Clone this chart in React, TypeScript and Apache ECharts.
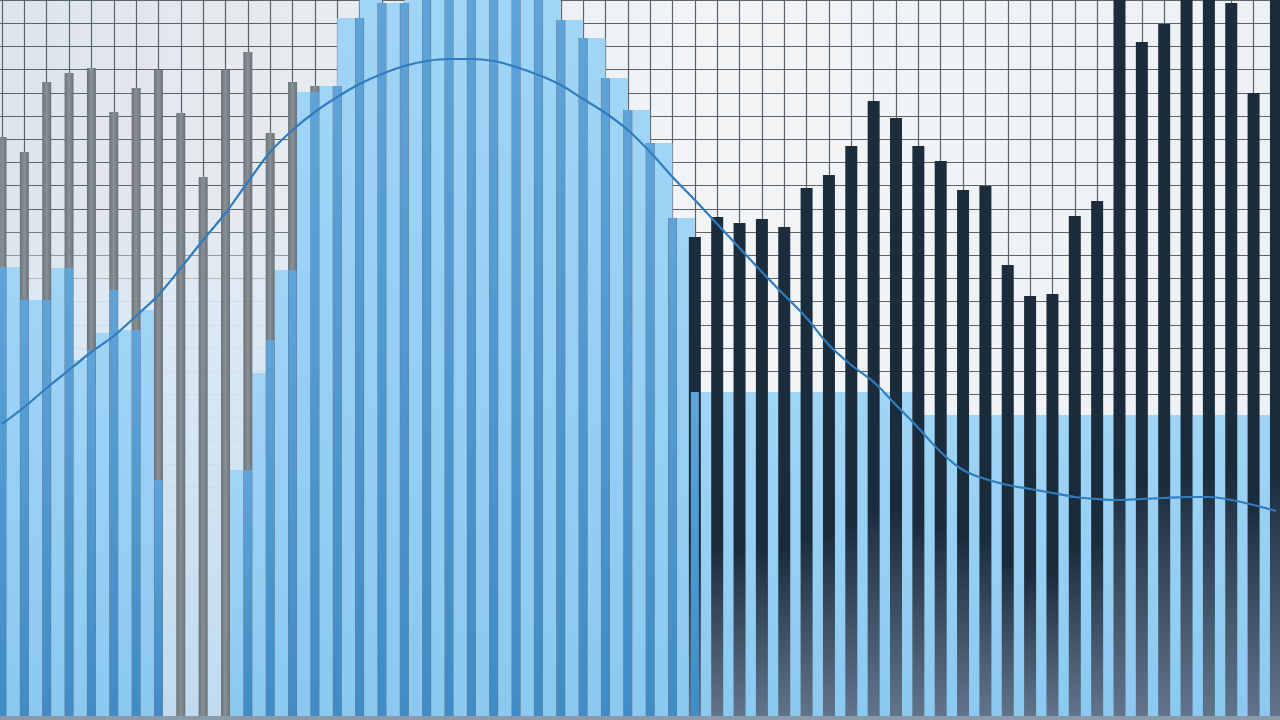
import React, { useEffect, useRef } from "react";
import * as echarts from "echarts";

// Heights of the thin front bars (k = 0..57), in axis units (0 = baseline, 716 = top of the picture)
const thinHeights = [
  579, 564, 634, 643, 648, 604, 628, 646, 603, 539, 646, 664, 583, 634, 630,
  630, 698, 713, 713, 716, 716, 716, 716, 716, 716, 696, 678, 638, 606, 573, 498,
  479, 499, 493, 497, 489, 528, 541, 570, 615, 598, 570, 555, 526, 530, 451,
  420, 422, 500, 515, 716, 674, 692, 716, 716, 713, 623, 716,
];
// index from which the thin bars are the dark navy ones
const darkFrom = 31;

// Height where each front bar (k = 0..31) turns blue inside the light-blue panels
const blueStripeHeights = [
  449, 416, 416, 448, 366, 426, 386, 236, null, null, null, 246, 376, 446, 624,
  630, 698, 713, 713, 716, 716, 716, 716, 716, 716, 696, 678, 638, 606, 573, 498, 324,
];

// Light-blue wide panels, centred between the thin bars (j = 0..58)
const wideHeights = [
  449, 449, 416, 448, 356, 383, 386, 406, null, null, null, 246, 343, 446, 624,
  630, 698, 716, 713, 716, 716, 716, 716, 716, 716, 716, 696, 678, 638, 606, 573, 498,
  324, 324, 324, 324, 324, 324, 324, 324, 324, 324,
  301, 301, 301, 301, 301, 301, 301, 301, 301, 301, 301, 301, 301, 301, 301, 301, 301,
];

// Pale haze behind the grey bars on the left (j = 0..13)
const hazeHeights = [
  501, 501, 501, 501, 501, 501, 501, 501, 501, 501, 501, 501, 501, 501,
];

// Smooth trend line, one point per thin bar
const trendValues = [
  292, 309, 328, 346, 364, 380, 400, 421, 448, 476, 503, 534, 564, 586, 604,
  619, 632, 642, 650, 655, 657, 657, 655, 649, 641, 631, 617, 603, 586, 564, 539,
  516, 492, 468, 444, 421, 398, 371, 351, 334, 311, 288, 264, 246, 237, 231,
  227, 223, 219, 217, 216, 217, 218, 219, 219, 216, 211, 205,
];

const STEP = 22.35; // px per category
const FIRST_X = 2; // centre of the first thin bar on the page
const PAD = 40; // chart canvas extends this far left of the page
const CHART_W = 1360;
const Y_MAX = 716;
const ROW = 23.2; // px per horizontal grid row

export default function App() {
  const ref = useRef<HTMLDivElement>(null);

  useEffect(() => {
    if (!ref.current) return;
    const chart = echarts.init(ref.current, null, { renderer: "svg" });

    const n = thinHeights.length;
    const cats = thinHeights.map((_, i) => "k" + i);
    const wideCats = wideHeights.map((_, i) => "j" + i);
    const g0Left = PAD + FIRST_X - STEP / 2;
    const g0Right = CHART_W - (g0Left + n * STEP);
    const g1Left = PAD + FIRST_X - STEP;
    const g1Right = CHART_W - (g1Left + wideHeights.length * STEP);

    const greyData = thinHeights.map((v, i) => (i < darkFrom ? v : null));
    const darkData = thinHeights.map((v, i) => (i >= darkFrom ? v : null));
    const blueData = thinHeights.map((v, i) => {
      const b = i < blueStripeHeights.length ? blueStripeHeights[i] : null;
      if (b == null) return null;
      return Math.min(v, b);
    });
    const hazeData = wideHeights.map((_, j) => (j < hazeHeights.length ? hazeHeights[j] : null));

    const hiddenCat = (gridIndex: number, data: string[]) => ({
      type: "category" as const,
      gridIndex,
      data,
      boundaryGap: true,
      axisLine: { show: false },
      axisTick: { show: false },
      axisLabel: { show: false },
      splitLine: { show: false },
    });

    const option: any = {
      animation: false,
      backgroundColor: "transparent",
      grid: [
        { left: g0Left, right: g0Right, top: 0, bottom: 720 - Y_MAX },
        { left: g1Left, right: g1Right, top: 0, bottom: 720 - Y_MAX },
      ],
      xAxis: [
        hiddenCat(0, cats), // 0 grey thin + line
        hiddenCat(0, cats), // 1 dark thin
        hiddenCat(0, cats), // 2 blue part
        {
          ...hiddenCat(1, wideCats), // 3 light-blue panels + vertical grid lines
          splitLine: {
            show: true,
            interval: 0,
            lineStyle: { color: "#5b636b", width: 1.2 },
          },
        },
        hiddenCat(1, wideCats), // 4 haze
      ],
      yAxis: [
        {
          type: "value",
          gridIndex: 0,
          min: 0,
          max: Y_MAX,
          show: false,
          splitLine: { show: false },
        },
        {
          type: "value",
          gridIndex: 1,
          min: 0,
          max: Y_MAX,
          show: false,
          splitLine: { show: false },
        },
        {
          type: "value",
          gridIndex: 1,
          inverse: true,
          min: 0,
          max: Y_MAX / ROW,
          interval: 1,
          axisLine: { show: false },
          axisTick: { show: false },
          axisLabel: { show: false },
          splitLine: { show: true, lineStyle: { color: "#5b636b", width: 1.2 } },
        },
      ],
      graphic: [
        {
          type: "rect",
          left: 0,
          bottom: 0,
          z: 100,
          shape: { width: CHART_W, height: 720 - Y_MAX },
          style: { fill: "#8b9aa8" },
        },
      ],
      series: [
        {
          name: "haze",
          type: "bar",
          xAxisIndex: 4,
          yAxisIndex: 1,
          data: hazeData,
          barCategoryGap: "0%",
          itemStyle: {
            color: {
              type: "linear",
              x: 0,
              y: 0,
              x2: 0,
              y2: 1,
              colorStops: [
                { offset: 0, color: "rgba(222,234,244,0)" },
                { offset: 0.18, color: "rgba(220,233,245,0.92)" },
                { offset: 1, color: "rgba(192,219,240,1)" },
              ],
            },
          },
        },
        {
          name: "panels",
          type: "bar",
          xAxisIndex: 3,
          yAxisIndex: 1,
          data: wideHeights,
          barCategoryGap: "0%",
          itemStyle: {
            color: {
              type: "linear",
              x: 0,
              y: 0,
              x2: 0,
              y2: 1,
              colorStops: [
                { offset: 0, color: "#a0d5f6" },
                { offset: 1, color: "#8bc9f1" },
              ],
            },
          },
        },
        {
          name: "grey",
          type: "bar",
          xAxisIndex: 0,
          yAxisIndex: 0,
          data: greyData,
          barWidth: 9,
          itemStyle: {
            color: {
              type: "linear",
              x: 0,
              y: 0,
              x2: 1,
              y2: 0,
              colorStops: [
                { offset: 0, color: "#6c737a" },
                { offset: 0.5, color: "#899096" },
                { offset: 1, color: "#6a7178" },
              ],
            },
          },
        },
        {
          name: "dark",
          type: "bar",
          xAxisIndex: 1,
          yAxisIndex: 0,
          data: darkData,
          barWidth: 12,
          itemStyle: {
            color: {
              type: "linear",
              x: 0,
              y: 0,
              x2: 0,
              y2: 1,
              colorStops: [
                { offset: 0, color: "#1b2d3c" },
                { offset: 0.66, color: "#1a2c3c" },
                { offset: 1, color: "#62748a" },
              ],
            },
          },
        },
        {
          name: "blue",
          type: "bar",
          xAxisIndex: 2,
          yAxisIndex: 0,
          data: blueData,
          barWidth: 8,
          itemStyle: {
            color: {
              type: "linear",
              x: 0,
              y: 0,
              x2: 0,
              y2: 1,
              colorStops: [
                { offset: 0, color: "#5ea4da" },
                { offset: 1, color: "#3f8cc8" },
              ],
            },
          },
        },
        {
          name: "trend",
          type: "line",
          xAxisIndex: 0,
          yAxisIndex: 0,
          data: trendValues,
          smooth: 0.35,
          symbol: "none",
          lineStyle: { color: "#2f7cc0", width: 2.2 },
        },
      ],
    };

    chart.setOption(option);
    return () => chart.dispose();
  }, []);

  return (
    <div
      ref={ref}
      style={{
        position: "fixed",
        left: -PAD,
        top: 0,
        width: CHART_W,
        height: 720,
        background:
          "linear-gradient(90deg, #dbe3ea 0%, #dee5eb 5%, #e6ebef 25%, #f2f4f6 55%, #eef1f3 100%)",
      }}
    />
  );
}
